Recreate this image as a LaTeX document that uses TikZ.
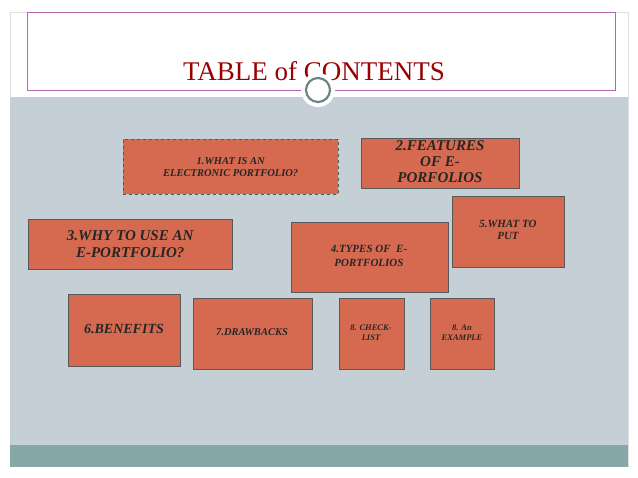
\documentclass[tikz,border=0pt]{standalone}
\usepackage{fontspec}
\setmainfont{Liberation Serif}
\begin{document}
\begin{tikzpicture}[x=1pt,y=-1pt,
  box/.style={draw=gray!70!black,line width=0.4pt,fill=boxc,inner sep=0pt,anchor=north west},
  lbl/.style={font=\bfseries\itshape,text=black!85,align=center,inner sep=0pt}]
\definecolor{boxc}{RGB}{214,106,80}
\definecolor{bandc}{RGB}{197,208,214}
\definecolor{tealc}{RGB}{135,168,168}
\useasboundingbox (0,0) rectangle (638,478);
\fill[white] (0,0) rectangle (638,478);
\draw[gray!25] (10,12) -- (628,12) (10,12) -- (10,467) (628,12) -- (628,467);
\fill[bandc] (10,97) rectangle (628,445);
\fill[tealc] (10,445) rectangle (628,467);
\draw[violet!60,line width=0.5pt] (27,12) rectangle (615,90);
\node[text=red!60!black,font=\fontsize{27}{30}\selectfont,inner sep=0pt] (title) at (314,71) {TABLE of CONTENTS};
\fill[white] (318,90) circle (17);
\draw[tealc!80!black,line width=2.2pt] (318,90) circle (12);
\node[box,dashed,minimum width=215pt,minimum height=55pt] (b1) at (123,139) {};
\node[lbl,font=\bfseries\itshape\fontsize{10.5}{12}\selectfont] (t1) at (b1.center) {1.WHAT IS AN\\ELECTRONIC PORTFOLIO?};
\node[box,minimum width=158pt,minimum height=50pt] (b2) at (361,138) {};
\node[lbl,font=\bfseries\itshape\fontsize{15}{16}\selectfont] (t2) at (440,162) {2.FEATURES\\OF E-\\PORFOLIOS};
\node[box,minimum width=204pt,minimum height=50pt] (b3) at (28,219) {};
\node[lbl,font=\bfseries\itshape\fontsize{15}{17}\selectfont] (t3) at (b3.center) {3.WHY TO USE AN\\E-PORTFOLIO?};
\node[box,minimum width=157pt,minimum height=70pt] (b4) at (291,222) {};
\node[lbl,font=\bfseries\itshape\fontsize{11}{14}\selectfont] (t4) at (369,256) {4.TYPES OF\ \ E-\\PORTFOLIOS};
\node[box,minimum width=112pt,minimum height=71pt] (b5) at (452,196) {};
\node[lbl,font=\bfseries\itshape\fontsize{11}{12}\selectfont] (t5) at (508,230) {5.WHAT TO\\PUT};
\node[box,minimum width=112pt,minimum height=72pt] (b6) at (68,294) {};
\node[lbl,font=\bfseries\itshape\fontsize{14}{16}\selectfont] (t6) at (124,329) {6.BENEFITS};
\node[box,minimum width=119pt,minimum height=71pt] (b7) at (193,298) {};
\node[lbl,font=\bfseries\itshape\fontsize{10.5}{12}\selectfont] (t7) at (252,332) {7.DRAWBACKS};
\node[box,minimum width=65pt,minimum height=71pt] (b8) at (339,298) {};
\node[lbl,font=\bfseries\itshape\fontsize{8.5}{10}\selectfont] (t8) at (371,333) {8. CHECK-\\LIST};
\node[box,minimum width=64pt,minimum height=71pt] (b9) at (430,298) {};
\node[lbl,font=\bfseries\itshape\fontsize{8.5}{10}\selectfont] (t9) at (462,333) {8. An\\EXAMPLE};
\end{tikzpicture}
\end{document}
